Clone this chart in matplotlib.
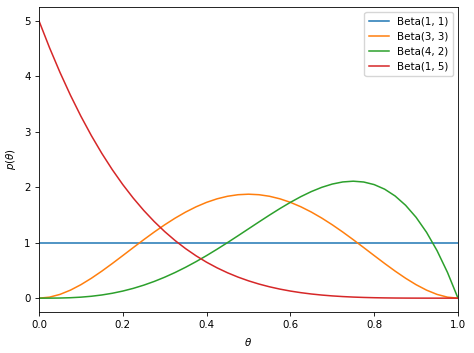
import matplotlib
matplotlib.use('Agg')
import matplotlib.pyplot as plt

# theta grid and density values
theta = [0.0, 0.025, 0.05, 0.075, 0.1, 0.125, 0.15, 0.175, 0.2, 0.225,
         0.25, 0.275, 0.3, 0.325, 0.35, 0.375, 0.4, 0.425, 0.45, 0.475,
         0.5, 0.525, 0.55, 0.575, 0.6, 0.625, 0.65, 0.675, 0.7, 0.725,
         0.75, 0.775, 0.8, 0.825, 0.85, 0.875, 0.9, 0.925, 0.95, 0.975, 1.0]

beta_1_1 = [1.0] * 41

beta_3_3_half = [0.0, 0.0178, 0.0677, 0.1444, 0.243, 0.3589, 0.4877, 0.6253,
                 0.768, 0.9122, 1.0547, 1.1925, 1.323, 1.4437, 1.5527, 1.6479,
                 1.728, 1.7916, 1.8377, 1.8656, 1.875]
beta_3_3 = beta_3_3_half + beta_3_3_half[-2::-1]

beta_4_2 = [0.0, 0.0003, 0.0024, 0.0078, 0.018, 0.0342, 0.0574, 0.0884,
            0.128, 0.1766, 0.2344, 0.3016, 0.378, 0.4634, 0.5574, 0.6592,
            0.768, 0.8828, 1.0024, 1.1253, 1.25, 1.3747, 1.4974, 1.6159,
            1.728, 1.8311, 1.9224, 1.9991, 2.058, 2.0959, 2.1094, 2.0947,
            2.048, 1.9653, 1.8424, 1.6748, 1.458, 1.1872, 0.8574, 0.4634, 0.0]

beta_1_5 = [5.0, 4.5184, 4.0725, 3.6605, 3.2805, 2.9309, 2.61, 2.3163,
            2.048, 1.8038, 1.582, 1.3814, 1.2005, 1.038, 0.8925, 0.7629,
            0.648, 0.5466, 0.4575, 0.3798, 0.3125, 0.2545, 0.205, 0.1631,
            0.128, 0.0989, 0.075, 0.0558, 0.0405, 0.0286, 0.0195, 0.0128,
            0.008, 0.0047, 0.0025, 0.0012, 0.0005, 0.0002, 0.0, 0.0, 0.0]

labels = ['Beta(1, 1)', 'Beta(3, 3)', 'Beta(4, 2)', 'Beta(1, 5)']
series = [beta_1_1, beta_3_3, beta_4_2, beta_1_5]

plt.rcParams.update({'font.size': 7.4})
fig = plt.figure(figsize=(4.74, 3.53), dpi=100)
ax = fig.add_axes([0.0823, 0.1161, 0.8839, 0.8639])

for ys, lab in zip(series, labels):
    ax.plot(theta, ys, label=lab, linewidth=1.1)

ax.set_xlim(0, 1)
ax.set_xlabel(r'$\theta$')
ax.set_ylabel(r'$p(\theta)$')
for sp in ax.spines.values():
    sp.set_linewidth(0.6)
ax.tick_params(width=0.6, length=2.6)
ax.legend(loc='upper right')

fig.savefig('out.png', dpi=100)
